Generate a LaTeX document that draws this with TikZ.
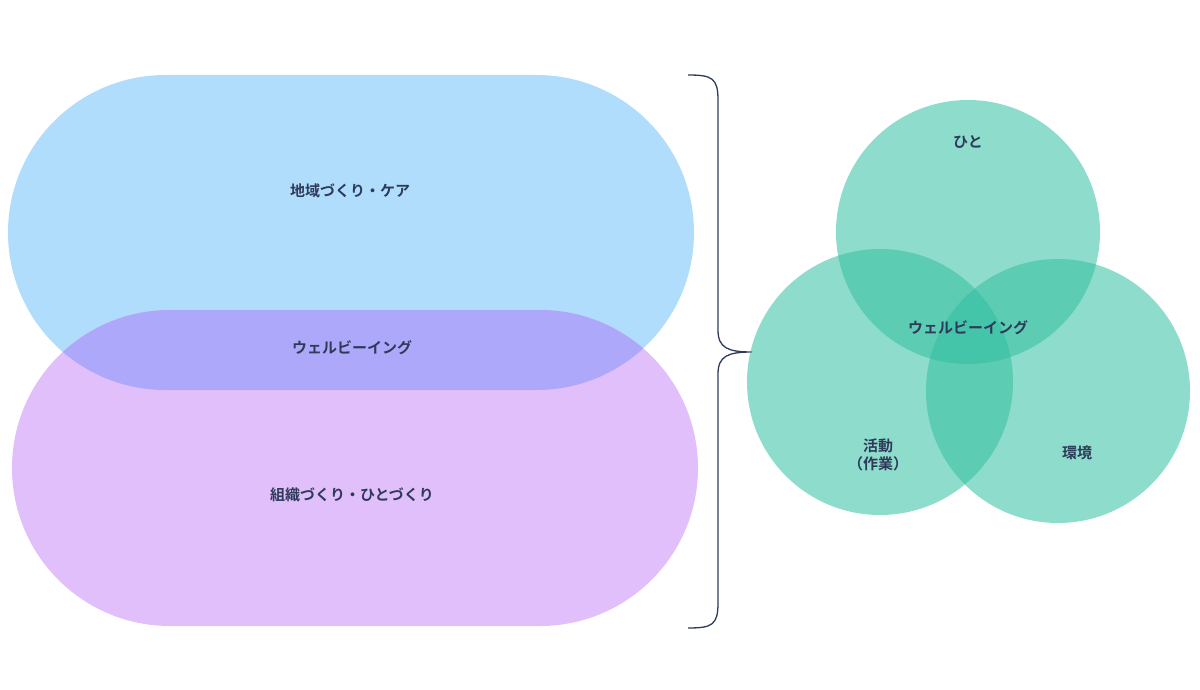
\documentclass[tikz,border=0pt]{standalone}
\usepackage{fontspec}
\newfontfamily\jp{Noto Sans CJK JP Bold}
\definecolor{blueS}{HTML}{B0DDFB}
\definecolor{purpS}{HTML}{E0BFFB}
\definecolor{ovS}{HTML}{ADA8FA}
\definecolor{grn}{RGB}{50,191,160}
\definecolor{txt}{HTML}{2E3A59}
\begin{document}
\begin{tikzpicture}[x=1pt,y=-1pt,
  lbl/.style={font=\jp\fontsize{15}{18}\selectfont,text=txt,align=center},
  circ/.style={fill=grn,fill opacity=0.55}]
\useasboundingbox (0,0) rectangle (1200,690);
\fill[blueS,rounded corners=157.5pt] (8,75) rectangle (694,390);
\fill[purpS,rounded corners=158pt] (12,310) rectangle (698,626);
\begin{scope}
\clip[rounded corners=157.5pt] (8,75) rectangle (694,390);
\fill[ovS,rounded corners=158pt] (12,310) rectangle (698,626);
\end{scope}
\draw[txt,line width=1.3pt] (688,75) .. controls (712,75) and (718,78) .. (718,100) -- (718,330) .. controls (718,348) and (728,352) .. (752,352) .. controls (728,352) and (718,356) .. (718,374) -- (718,603) .. controls (718,625) and (712,628) .. (688,628);
\fill[circ] (968,232) circle (132);
\fill[circ] (880,382) circle (133);
\fill[circ] (1058,391) circle (132);
\node[lbl] (a) at (350,191) {地域づくり・ケア};
\node[lbl] (b) at (352,348) {ウェルビーイング};
\node[lbl] (c) at (352,495) {組織づくり・ひとづくり};
\node[lbl] (d) at (968,142) {ひと};
\node[lbl] (e) at (968,328) {ウェルビーイング};
\node[lbl] (f) at (878,455) {活動\\（作業）};
\node[lbl] (g) at (1077,453) {環境};
\end{tikzpicture}
\end{document}
